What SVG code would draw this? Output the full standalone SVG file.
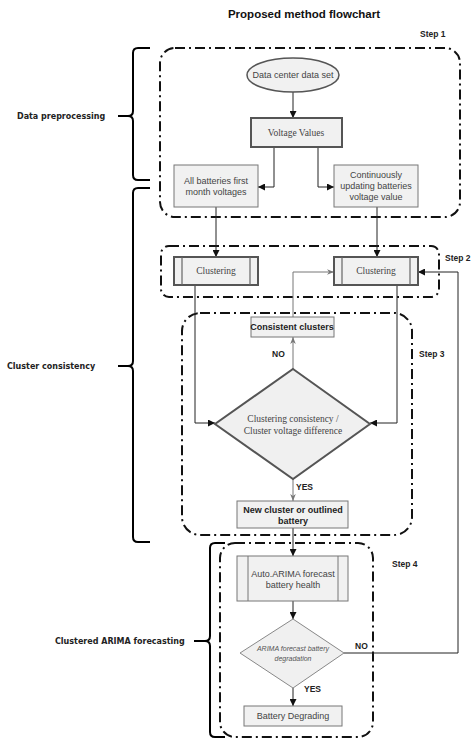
<svg xmlns="http://www.w3.org/2000/svg" width="474" height="740" viewBox="0 0 474 740">
<style>
.bg{fill:#ffffff}
.group{fill:none;stroke:#111;stroke-width:2;stroke-dasharray:10 4 2 4}
.brace{fill:none;stroke:#000;stroke-width:2}
.box{fill:#f1f1f1;stroke:#777;stroke-width:1}
.boxd{fill:#f1f1f1;stroke:#555;stroke-width:2}
.inner{stroke:#666;stroke-width:1.2}
.dia{fill:#f0f0f0;stroke:#555;stroke-width:2}
.dia2{fill:#f0f0f0;stroke:#888;stroke-width:1}
.line{fill:none;stroke:#222;stroke-width:1}
.gline{fill:none;stroke:#777;stroke-width:1}
.sans{font-family:"Liberation Sans",Arial,sans-serif;font-size:9px;fill:#444;text-anchor:middle}
.serif{font-family:"Liberation Serif","Times New Roman",serif;font-size:9.5px;fill:#444;text-anchor:middle}
.bold{font-family:"Liberation Sans",Arial,sans-serif;font-size:9px;font-weight:bold;fill:#222;text-anchor:middle}
.lbl{font-family:"Liberation Sans",Arial,sans-serif;font-size:8.5px;font-weight:bold;fill:#222}
.side{font-family:"DejaVu Sans","Liberation Sans",sans-serif;font-size:8px;font-weight:bold;fill:#222}
.title{font-family:"Liberation Sans",Arial,sans-serif;font-size:11.5px;font-weight:bold;fill:#111;text-anchor:middle}
.ital{font-family:"Liberation Sans",Arial,sans-serif;font-size:7px;font-style:italic;fill:#555;text-anchor:middle}
</style>
<defs>
<marker id="ah" viewBox="0 0 10 10" refX="10" refY="5" markerWidth="7" markerHeight="7" orient="auto" markerUnits="userSpaceOnUse"><path d="M0,0 L10,5 L0,10 z" fill="#111"/></marker>
<marker id="ahg" viewBox="0 0 10 10" refX="10" refY="5" markerWidth="7" markerHeight="7" orient="auto" markerUnits="userSpaceOnUse"><path d="M0,1 L10,5 L0,9 L3,5 z" fill="#777"/></marker>
</defs>
<rect class="bg" x="0" y="0" width="474" height="740"/>
<text class="title" x="304" y="18">Proposed method flowchart</text>

<g id="groups">
<rect class="group" x="160" y="48" width="300" height="169" rx="15"/>
<rect class="group" x="161" y="246" width="278" height="51" rx="8"/>
<rect class="group" x="182" y="313" width="230" height="222" rx="18"/>
<rect class="group" x="220" y="543" width="153" height="194" rx="15"/>
<text class="lbl" x="420" y="37">Step 1</text>
<text class="lbl" x="445" y="261">Step 2</text>
<text class="lbl" x="419" y="357">Step 3</text>
<text class="lbl" x="392" y="567">Step 4</text>
</g>

<g id="braces">
<path class="brace" d="M150,48 H138 Q133,48 133,53 V111 Q133,116 128,116 H118 M128,116 Q133,116 133,121 V175 Q133,180 138,180 H150"/>
<path class="brace" d="M150,188 H138 Q133,188 133,193 V361 Q133,366 128,366 H118 M128,366 Q133,366 133,371 V537 Q133,542 138,542 H150"/>
<path class="brace" d="M225,543 H215 Q210,543 210,548 V636 Q210,641 205,641 H194 M205,641 Q210,641 210,646 V732 Q210,737 215,737 H225"/>
<text class="side" x="17" y="119">Data preprocessing</text>
<text class="side" x="7" y="369">Cluster consistency</text>
<text class="side" x="55" y="644">Clustered ARIMA forecasting</text>
</g>

<g id="connectors">
<path class="line" d="M293,92 V118" marker-end="url(#ah)"/>
<path class="line" d="M274,147 V187 H258" marker-end="url(#ah)"/>
<path class="line" d="M318,147 V187 H334" marker-end="url(#ah)"/>
<path class="line" d="M216,207 V257" marker-end="url(#ah)"/>
<path class="line" d="M377,207 V257" marker-end="url(#ah)"/>
<path class="line" d="M195,285 V423 H215" marker-end="url(#ah)"/>
<path class="line" d="M397,285 V423 H370" marker-end="url(#ah)"/>
<path class="gline" d="M293,369 V337" marker-end="url(#ahg)"/>
<path class="gline" d="M293,317 V272 H334" marker-end="url(#ahg)"/>
<path class="gline" d="M293,479 V501" marker-end="url(#ahg)"/>
<path class="line" d="M293,528 V556" marker-end="url(#ah)"/>
<path class="line" d="M293,601 V619" marker-end="url(#ah)"/>
<path class="line" d="M293,688 V706" marker-end="url(#ah)"/>
<path class="line" d="M344,653 H458 V272 H418" marker-end="url(#ah)"/>
<text class="lbl" x="272" y="357">NO</text>
<text class="lbl" x="296" y="490">YES</text>
<text class="lbl" x="355" y="649">NO</text>
<text class="lbl" x="304" y="692">YES</text>
</g>

<g id="n-dataset">
<ellipse cx="293" cy="75" rx="46" ry="17" fill="#f1f1f1" stroke="#555" stroke-width="1.5"/>
<text class="sans" x="293" y="78">Data center data set</text>
</g>
<g id="n-voltage">
<rect class="boxd" x="251" y="118" width="91" height="29"/>
<text class="serif" x="296" y="136">Voltage Values</text>
</g>
<g id="n-allbatt">
<rect class="box" x="174" y="165" width="84" height="42"/>
<text class="sans" x="216" y="184">All batteries first</text>
<text class="sans" x="216" y="195">month voltages</text>
</g>
<g id="n-cont">
<rect class="box" x="334" y="165" width="84" height="42"/>
<text class="sans" x="376" y="178">Continuously</text>
<text class="sans" x="376" y="189">updating batteries</text>
<text class="sans" x="376" y="200">voltage value</text>
</g>
<g id="n-clust1">
<rect class="boxd" x="174" y="257" width="84" height="28" stroke-width="1.5"/>
<line class="inner" x1="182" y1="257" x2="182" y2="285"/>
<line class="inner" x1="250" y1="257" x2="250" y2="285"/>
<text class="serif" x="216" y="274">Clustering</text>
</g>
<g id="n-clust2">
<rect class="boxd" x="334" y="257" width="84" height="28" stroke-width="1.5"/>
<line class="inner" x1="342" y1="257" x2="342" y2="285"/>
<line class="inner" x1="410" y1="257" x2="410" y2="285"/>
<text class="serif" x="376" y="274">Clustering</text>
</g>
<g id="n-consistent">
<rect class="box" x="251" y="317" width="83" height="20"/>
<text class="bold" x="292" y="330">Consistent clusters</text>
</g>
<g id="n-decision1">
<polygon class="dia" points="293,369 370,424 293,479 215,424"/>
<text class="serif" x="293" y="422">Clustering consistency /</text>
<text class="serif" x="293" y="434">Cluster voltage difference</text>
</g>
<g id="n-newcluster">
<rect class="box" x="237" y="501" width="111" height="27"/>
<text class="bold" x="293" y="513">New cluster or outlined</text>
<text class="bold" x="293" y="524">battery</text>
</g>
<g id="n-arima">
<rect class="box" x="237" y="556" width="111" height="45"/>
<line class="gline" x1="248" y1="556" x2="248" y2="601"/>
<line class="gline" x1="338" y1="556" x2="338" y2="601"/>
<text class="sans" x="293" y="577">Auto.ARIMA forecast</text>
<text class="sans" x="293" y="588">battery health</text>
</g>
<g id="n-decision2">
<polygon class="dia2" points="293,619 344,653 293,688 240,653"/>
<text class="ital" x="293" y="651">ARIMA forecast battery</text>
<text class="ital" x="293" y="661">degradation</text>
</g>
<g id="n-degrading">
<rect class="box" x="244" y="706" width="98" height="20"/>
<text class="sans" x="293" y="719">Battery Degrading</text>
</g>
</svg>
